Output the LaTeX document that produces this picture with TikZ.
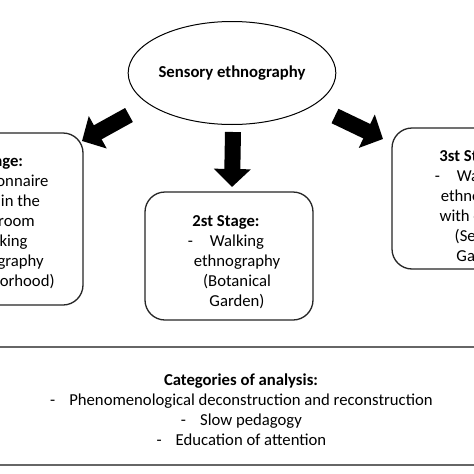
\documentclass[tikz,border=0pt]{standalone}
\usepackage{fontspec}
\setmainfont{Carlito}
\usetikzlibrary{shapes.geometric,arrows.meta}
\begin{document}
\begin{tikzpicture}[x=1pt,y=-1pt,
    every node/.style={font=\fontsize{16.7pt}{20pt}\selectfont, align=center, inner sep=0pt},
    stagebox/.style={draw=black!85, line width=1.3pt, rounded corners=20pt, minimum width=168pt},
    bigarrow/.style={line width=16pt, -{Triangle[length=18pt,width=36pt]}}]
    \clip (0,0) rectangle (474,474);
    \fill[white] (0,0) rectangle (474,474);
    \node[ellipse, draw, line width=1pt, minimum width=192pt, minimum height=103pt] (S) at (232,73) {\textbf{Sensory ethnography}};
    \node[stagebox, minimum width=181pt, minimum height=172pt] (B1) at (-7.5,219) {};
    \node (St1) at (-7.5,222) {\hspace*{-6pt}\textbf{1st Stage:}\\
        \hspace*{16pt}\llap{-\hspace{17pt}}Questionnaire\\
        \hspace*{16pt}given in the\\
        \hspace*{16pt}classroom\\
        \hspace*{16pt}\llap{-\hspace{17pt}}Walking\\
        \hspace*{16pt}ethnography\\
        \hspace*{16pt}(Neighborhood)};
    \node[stagebox, minimum height=128pt] (B2) at (229,256) {};
    \node (St2) at (229,262) {\hspace*{-6pt}\textbf{2st Stage:}\\
        \hspace*{16pt}\llap{-\hspace{17pt}}Walking\\
        \hspace*{16pt}ethnography\\
        \hspace*{16pt}(Botanical\\
        \hspace*{16pt}Garden)};
    \node[stagebox, minimum height=141pt] (B3) at (476,198.5) {};
    \node (St3) at (476,207) {\hspace*{-6pt}\textbf{3st Stage:}\\
        \hspace*{16pt}\llap{-\hspace{17pt}}Walking\\
        \hspace*{16pt}ethnography\\
        \hspace*{16pt}with children\\
        \hspace*{16pt}(Sensory\\
        \hspace*{16pt}Garden)};
    \node[draw=black!60, line width=2.5pt, minimum width=520pt, minimum height=118pt] (F) at (237,406) {};
    \node (Cat) at (246,410) {\hspace*{-10pt}\textbf{Categories of analysis:}\\
        \hspace*{10pt}\llap{-\hspace{14pt}}Phenomenological deconstruction and reconstruction\\
        \hspace*{10pt}\llap{-\hspace{14pt}}Slow pedagogy\\
        \hspace*{10pt}\llap{-\hspace{14pt}}Education of attention};
    \coordinate (A1) at (129,115);
    \coordinate (A1e) at (82,141);
    \coordinate (A2) at (233,132);
    \coordinate (A2e) at (232,187);
    \coordinate (A3) at (335,116);
    \coordinate (A3e) at (383,139);
    \draw[bigarrow] (A1) -- (A1e);
    \draw[bigarrow] (A2) -- (A2e);
    \draw[bigarrow] (A3) -- (A3e);
\end{tikzpicture}
\end{document}
